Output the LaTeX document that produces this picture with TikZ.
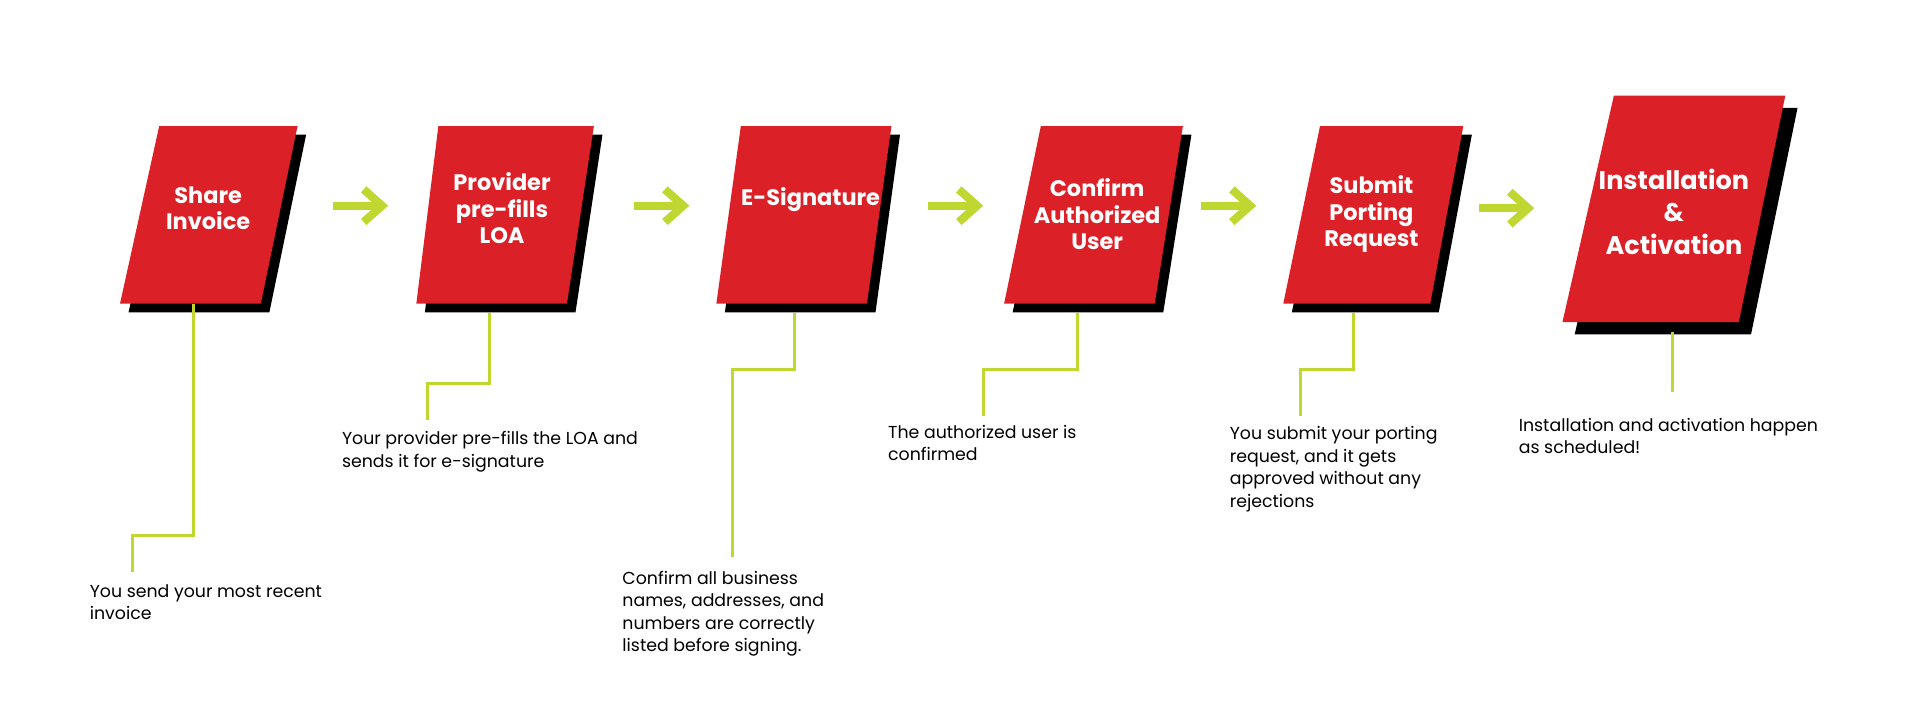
\documentclass[tikz,border=0pt]{standalone}
\usepackage{fontspec}
\setmainfont{Poppins}
\usetikzlibrary{arrows.meta}
\definecolor{rd}{HTML}{DB2027}
\definecolor{gr}{HTML}{BFD730}
\begin{document}
\begin{tikzpicture}[x=0.6pt,y=-0.6pt,
  lead/.style={gr,line width=1.4pt},
  arr/.style={gr,line width=4pt,-{Straight Barb[length=9pt,width=16pt,line width=4pt]}},
  ttl/.style={text=white,font=\bfseries\fontsize{11}{13}\selectfont,align=center},
  desc/.style={anchor=north west,align=left,font=\fontsize{8.5}{11}\selectfont,inner sep=0pt}]
\useasboundingbox (0,0) rectangle (1568,588);
\newcommand\para[6]{% tl tr br bl y1 y2 shadow
  \fill[black] (#1+#6,103+#6) -- (#2+#6,103+#6) -- (#3+#6,248+#6) -- (#4+#6,248+#6) -- cycle;
  \fill[rd] (#1,103) -- (#2,103) -- (#3,248) -- (#4,248) -- cycle;
  \coordinate (#5) at ({(#1+#2+#3+#4)/4},175);}
\para{130}{243}{213}{98}{b1}{7}
\para{358}{485}{463}{340}{b2}{7}
\para{605}{728}{708}{585}{b3}{7}
\para{850}{966}{943}{820}{b4}{7}
\para{1078}{1195}{1168}{1048}{b5}{7}
\fill[black] (1328,88) -- (1468,88) -- (1430,273) -- (1286,273) -- cycle;
\fill[rd] (1318,78) -- (1458,78) -- (1420,263) -- (1276,263) -- cycle;
\node[ttl] (t1) at (170,170) {Share\\Invoice};
\node[ttl] (t2) at (410,170) {Provider\\pre-fills\\LOA};
\node[ttl] (t3) at (662,163) {E-Signature};
\node[ttl] (t4) at (896,175) {Confirm\\Authorized\\User};
\node[ttl] (t5) at (1120,175) {Submit\\Porting\\Request};
\node[ttl,font=\bfseries\fontsize{12.5}{16}\selectfont] (t6) at (1367,173) {Installation\\\&\\Activation};
\foreach \a/\b/\y in {272/317/168,518/563/168,758/803/168,981/1026/168,1208/1253/170}
  \draw[arr] (\a,\y) -- (\b,\y);
\draw[lead] (158,248) -- (158,437) -- (108,437) -- (108,467);
\draw[lead] (400,256) -- (400,313) -- (349,313) -- (349,343);
\draw[lead] (649,256) -- (649,302) -- (598,302) -- (598,455);
\draw[lead] (880,256) -- (880,302) -- (803,302) -- (803,340);
\draw[lead] (1105,256) -- (1105,302) -- (1062,302) -- (1062,340);
\draw[lead] (1366,271) -- (1366,320);
\node[desc] (d1) at (73,477) {You send your most recent\\invoice};
\node[desc] (d2) at (279,352) {Your provider pre-fills the LOA and\\sends it for e-signature};
\node[desc] (d3) at (508,466) {Confirm all business\\names, addresses, and\\numbers are correctly\\listed before signing.};
\node[desc] (d4) at (725,347) {The authorized user is\\confirmed};
\node[desc] (d5) at (1004,348) {You submit your porting\\request, and it gets\\approved without any\\rejections};
\node[desc] (d6) at (1240,341) {Installation and activation happen\\as scheduled!};
\end{tikzpicture}
\end{document}
